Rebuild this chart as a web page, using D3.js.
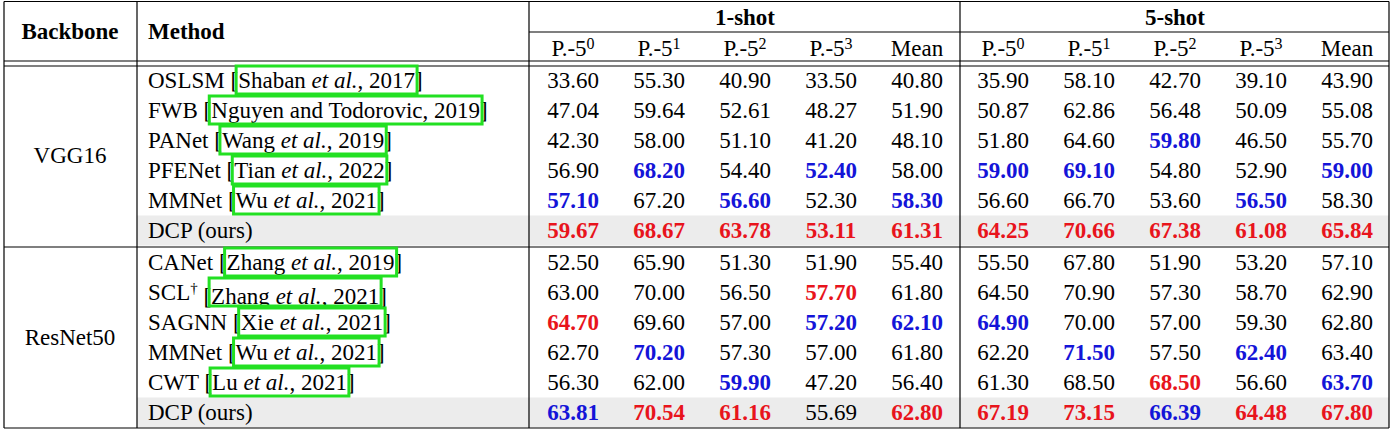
<!DOCTYPE html>
<html><head><meta charset="utf-8">
<script src="https://cdn.jsdelivr.net/npm/d3@7"></script>
<style>body{margin:0;background:#fff}text{font-family:"Liberation Serif","Times New Roman",serif}</style>
</head><body><svg id="c" width="1394" height="433"></svg>
<script>
const groups = ["1-shot", "5-shot"];
const colLabels = [["P.-5","0"],["P.-5","1"],["P.-5","2"],["P.-5","3"],["Mean",""]];
const backbones = ["VGG16", "ResNet50"];
const methodNames = ["OSLSM","FWB","PANet","PFENet","MMNet","DCP (ours)","CANet","SCL","SAGNN","MMNet","CWT","DCP (ours)"];
const methodSup = ["","","","","","","","†","","","",""];
const citeAuthors = ["Shaban","Nguyen and Todorovic","Wang","Tian","Wu",null,"Zhang","Zhang","Xie","Wu","Lu",null];
const citeEtAl = [true,false,true,true,true,false,true,true,true,true,true,false];
const citeYears = ["2017","2019","2019","2022","2021",null,"2019","2021","2021","2021","2021",null];
const values = [
 ["33.60","55.30","40.90","33.50","40.80","35.90","58.10","42.70","39.10","43.90"],
 ["47.04","59.64","52.61","48.27","51.90","50.87","62.86","56.48","50.09","55.08"],
 ["42.30","58.00","51.10","41.20","48.10","51.80","64.60","59.80","46.50","55.70"],
 ["56.90","68.20","54.40","52.40","58.00","59.00","69.10","54.80","52.90","59.00"],
 ["57.10","67.20","56.60","52.30","58.30","56.60","66.70","53.60","56.50","58.30"],
 ["59.67","68.67","63.78","53.11","61.31","64.25","70.66","67.38","61.08","65.84"],
 ["52.50","65.90","51.30","51.90","55.40","55.50","67.80","51.90","53.20","57.10"],
 ["63.00","70.00","56.50","57.70","61.80","64.50","70.90","57.30","58.70","62.90"],
 ["64.70","69.60","57.00","57.20","62.10","64.90","70.00","57.00","59.30","62.80"],
 ["62.70","70.20","57.30","57.00","61.80","62.20","71.50","57.50","62.40","63.40"],
 ["56.30","62.00","59.90","47.20","56.40","61.30","68.50","68.50","56.60","63.70"],
 ["63.81","70.54","61.16","55.69","62.80","67.19","73.15","66.39","64.48","67.80"]];
const marks = [
 "..........",
 "..........",
 ".......b..",
 ".b.b.bb..b",
 "b.b.b...b.",
 "rrrrrrrrrr",
 "..........",
 "...r......",
 "r..bbb....",
 ".b....b.b.",
 "..b....r.b",
 "brr.rrrbrr"];

const svg = d3.select("#c");
const F=23;
const rowY = d3.scaleLinear().domain([0,5]).range([80,230]);
const rowY2 = d3.scaleLinear().domain([6,11]).range([262,412]);
const yOf = i => i<6 ? rowY(i) : rowY2(i);
const colX = d3.scaleLinear().domain([0,4]).range([573,917]);
const xOf = j => j<5 ? colX(j) : colX(j-5)+430;
const colors = {r:"#e8141c", b:"#1414d8"};

[5,11].forEach(i=>svg.append("rect").attr("x",137).attr("y",yOf(i)-14.5).attr("width",1389-137).attr("height",30).attr("fill","#ececec"));

const line=(x1,y1,x2,y2)=>svg.append("line").attr("x1",x1).attr("y1",y1).attr("x2",x2).attr("y2",y2).attr("stroke","#000").attr("stroke-width",1.2);
[1.5,61,66,247,428].forEach(y=>line(4,y,1389,y));
line(529,32,1389,32);
[4,137,529,960,1389].forEach(x=>line(x,1.5,x,428));

svg.append("text").attr("x",70).attr("y",31).attr("dy","0.35em").attr("text-anchor","middle").attr("font-weight","bold").attr("font-size",F).text("Backbone");
svg.append("text").attr("x",148).attr("y",31).attr("dy","0.35em").attr("font-weight","bold").attr("font-size",F).text("Method");
groups.forEach((g,k)=>svg.append("text").attr("x",k?1175:745).attr("y",17).attr("dy","0.35em").attr("text-anchor","middle").attr("font-weight","bold").attr("font-size",F).text(g));
for(let j=0;j<10;j++){
  const c=colLabels[j%5];
  const t=svg.append("text").attr("x",xOf(j)).attr("y",48).attr("dy","0.35em").attr("text-anchor","middle").attr("font-size",F);
  t.append("tspan").text(c[0]);
  if(c[1]) t.append("tspan").attr("dy","-0.45em").attr("font-size",16).text(c[1]);
}
svg.append("text").attr("x",70).attr("y",(rowY(0)+rowY(5))/2).attr("dy","0.35em").attr("text-anchor","middle").attr("font-size",F).text(backbones[0]);
svg.append("text").attr("x",70).attr("y",(rowY2(6)+rowY2(11))/2).attr("dy","0.35em").attr("text-anchor","middle").attr("font-size",F).text(backbones[1]);

methodNames.forEach((m,i)=>{
  const y=yOf(i);
  const t=svg.append("text").attr("x",148).attr("y",y).attr("dy","0.35em").attr("font-size",F);
  t.append("tspan").text(m);
  if(methodSup[i]) t.append("tspan").attr("dy","-0.45em").attr("font-size",15).text(methodSup[i]);
  if(!citeAuthors[i]) return;
  t.append("tspan").attr("dy",methodSup[i]?"0.45em":null).text(" [");
  t.append("tspan").text(citeAuthors[i]+(citeEtAl[i]?" ":""));
  if(citeEtAl[i]) t.append("tspan").attr("font-style","italic").text("et al.");
  t.append("tspan").text(", "+citeYears[i]);
  t.append("tspan").text("]");
  const node=t.node(), n=node.getNumberOfChars();
  const s=node.getStartPositionOfChar(methodNames[i].length+methodSup[i].length+2).x;
  const e=node.getEndPositionOfChar(n-2).x;
  svg.append("rect").attr("x",s-2).attr("y",y-14).attr("width",e-s+4).attr("height",28)
    .attr("fill","none").attr("stroke","#22e022").attr("stroke-width",3);
});

values.forEach((row,i)=>row.forEach((v,j)=>{
  const m=marks[i][j];
  svg.append("text").attr("x",xOf(j)).attr("y",yOf(i)).attr("dy","0.35em").attr("text-anchor","middle")
    .attr("font-size",F).attr("font-weight",m!=="."?"bold":null).attr("fill",colors[m]||"#000").text(v);
}));
</script></body></html>
